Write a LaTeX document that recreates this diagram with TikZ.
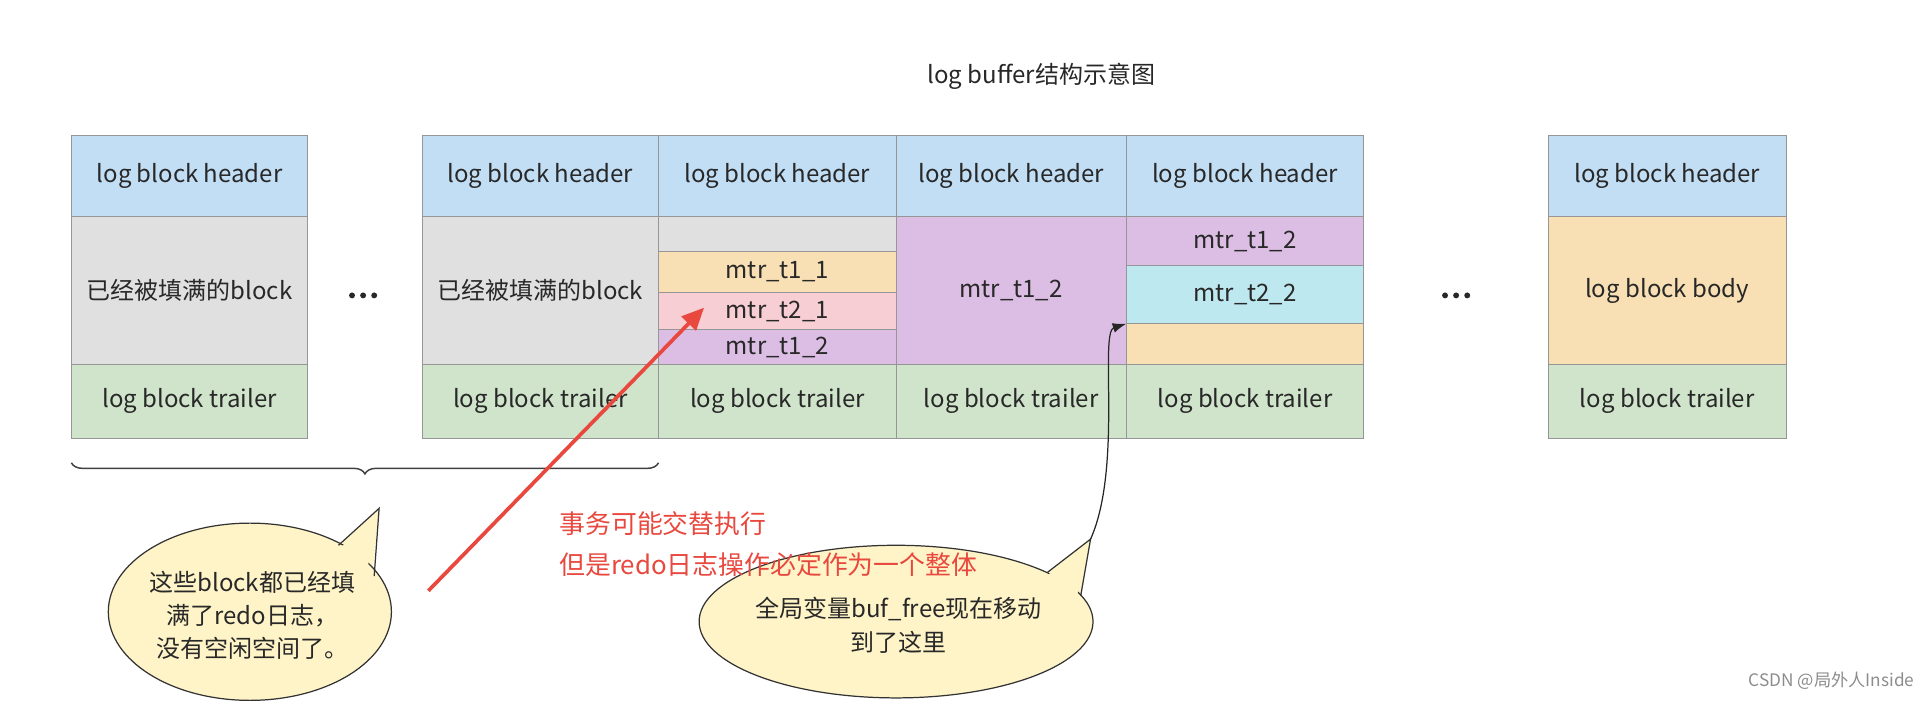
\documentclass[tikz,border=0pt]{standalone}
\usepackage{fontspec}
\setmainfont{Noto Sans CJK SC}
\usetikzlibrary{decorations.pathreplacing,arrows.meta}
\definecolor{hdr}{RGB}{194,222,245}
\definecolor{gry}{RGB}{224,224,224}
\definecolor{grn}{RGB}{208,228,203}
\definecolor{org}{RGB}{249,224,180}
\definecolor{pur}{RGB}{220,190,228}
\definecolor{pnk}{RGB}{247,206,212}
\definecolor{cyn}{RGB}{190,232,240}
\definecolor{bub}{RGB}{255,244,200}
\definecolor{edge}{RGB}{150,150,150}
\definecolor{redc}{RGB}{232,72,62}
\definecolor{txt}{RGB}{40,40,40}
\newcommand{\mycell}[7]{\node[cell,fill=#6,minimum width={(#4-#2)*1pt},minimum height={(#5-#3)*1pt}] (#1) at ({(#2+#4)/2},{(#3+#5)/2}) {#7};}
\newcommand{\mydots}[2]{\foreach \dx in {-9,0,9} {\fill[txt] ({#1+\dx},#2) circle (2.4);}}
\tikzset{
  cell/.style={draw=edge,line width=0.8pt,inner sep=0pt,outer sep=0pt,text=txt,font=\fontsize{19.5}{23}\selectfont},
  bubble/.style={draw=black!80,line width=1pt,fill=bub},
  lbl/.style={text=txt,font=\fontsize{19.5}{27}\selectfont,align=center}
}
\begin{document}
\begin{tikzpicture}[x=1pt,y=-1pt]
\useasboundingbox (0,0) rectangle (1568,570);
\node[lbl] (title) at (846,62) {log buffer结构示意图};
% block 1
\mycell{h1}{58}{110}{250}{176}{hdr}{log block header}
\mycell{b1}{58}{176}{250}{296}{gry}{已经被填满的block}
\mycell{t1}{58}{296}{250}{356}{grn}{log block trailer}
\mydots{295}{240}
% block 2
\mycell{h2}{343}{110}{535}{176}{hdr}{log block header}
\mycell{b2}{343}{176}{535}{296}{gry}{已经被填满的block}
\mycell{t2}{343}{296}{535}{356}{grn}{log block trailer}
% block 3
\mycell{h3}{535}{110}{728}{176}{hdr}{log block header}
\mycell{b3a}{535}{176}{728}{204}{gry}{}
\mycell{b3b}{535}{204}{728}{238}{org}{mtr\_t1\_1}
\mycell{b3c}{535}{238}{728}{268}{pnk}{mtr\_t2\_1}
\mycell{b3d}{535}{268}{728}{296}{pur}{mtr\_t1\_2}
\mycell{t3}{535}{296}{728}{356}{grn}{log block trailer}
% block 4
\mycell{h4}{728}{110}{915}{176}{hdr}{log block header}
\mycell{b4}{728}{176}{915}{296}{pur}{mtr\_t1\_2}
\mycell{t4}{728}{296}{915}{356}{grn}{log block trailer}
% block 5
\mycell{h5}{915}{110}{1108}{176}{hdr}{log block header}
\mycell{b5a}{915}{176}{1108}{216}{pur}{mtr\_t1\_2}
\mycell{b5b}{915}{216}{1108}{263}{cyn}{mtr\_t2\_2}
\mycell{b5c}{915}{263}{1108}{296}{org}{}
\mycell{t5}{915}{296}{1108}{356}{grn}{log block trailer}
\mydots{1183}{240}
% block 6
\mycell{h6}{1258}{110}{1451}{176}{hdr}{log block header}
\mycell{b6}{1258}{176}{1451}{296}{org}{log block body}
\mycell{t6}{1258}{296}{1451}{356}{grn}{log block trailer}
% brace
\coordinate (bl) at (58,376);
\coordinate (br) at (535,376);
\draw[black!75,line width=1.2pt,decorate,decoration={brace,mirror,amplitude=9pt}] (bl) -- (br);
% callout 1
\coordinate (tip1) at (308,413);
\fill[bub] (tip1) -- (273,446) -- (302,472) -- cycle;
\filldraw[bubble] (203,497) ellipse [x radius=115,y radius=72];
\fill[bub] (tip1) -- (270,452) -- (296,475) -- cycle;
\draw[black!80,line width=1pt] (275,443) -- (tip1) -- (304,468);
\node[lbl] (c1) at (205,500) {这些block都已经填\\满了redo日志，\\没有空闲空间了。};
% callout 2
\coordinate (tip2) at (886,438);
\fill[bub] (tip2) -- (851,465) -- (878,484) -- cycle;
\filldraw[bubble] (728,505) ellipse [x radius=160,y radius=62];
\fill[bub] (tip2) -- (848,470) -- (874,488) -- cycle;
\draw[black!80,line width=1pt] (851,465) -- (tip2) -- (878,484);
\node[lbl] (c2) at (730,508) {全局变量buf\_free现在移动\\到了这里};
\draw[black!85,line width=1pt,-{Latex[length=11pt,width=8pt]}] (tip2) .. controls (912,380) and (893,270) .. (b5c.north west);
% red text and arrow
\node[text=redc,font=\fontsize{21}{33}\selectfont,align=left,anchor=west] (rt) at (451,442) {事务可能交替执行\\但是redo日志操作必定作为一个整体};
\coordinate (rs) at (348,480);
\draw[redc,line width=3pt,-{Triangle[length=18pt,width=16pt]}] (rs) -- (572,250);
\node[text=black!45,font=\fontsize{14}{16}\selectfont] (wm) at (1488,553) {CSDN @局外人Inside};
\end{tikzpicture}
\end{document}
